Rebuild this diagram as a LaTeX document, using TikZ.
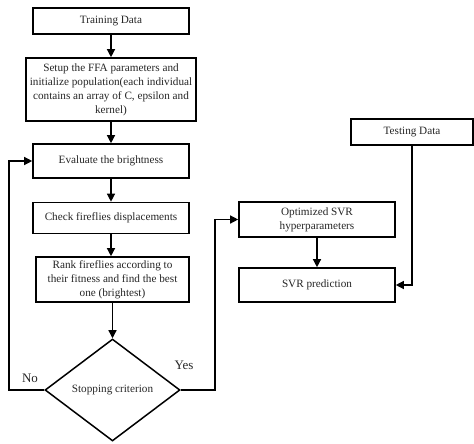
\documentclass[tikz,border=0pt]{standalone}
\usepackage{fontspec}
\setmainfont{Liberation Serif}
\usetikzlibrary{shapes.geometric,arrows.meta}
\begin{document}
\begin{tikzpicture}[x=1pt,y=-1pt,
  box/.style={draw=black,line width=1.6pt,fill=white,inner sep=0pt,align=center,
    font=\fontsize{11.2}{14}\selectfont,text=black!85},
  dec/.style={draw=black,line width=1.5pt,diamond,inner sep=0pt,minimum width=135pt,
    minimum height=102pt,font=\fontsize{11.2}{14}\selectfont,text=black!85},
  arr/.style={line width=1.3pt,-{Triangle[length=8pt,width=8pt]}},
  lbl/.style={font=\fontsize{13}{15}\selectfont,text=black!85}]
\useasboundingbox (0,0) rectangle (474,444);
\node[box,minimum width=156pt,minimum height=26pt] (train) at (111,21) {Training Data};
\node[box,minimum width=170pt,minimum height=63pt] (setup) at (111,89.5) {Setup the FFA parameters and\\initialize population(each individual\\contains an array of C, epsilon and\\kernel)};
\node[box,minimum width=156pt,minimum height=34pt] (eval) at (111,161) {Evaluate the brightness};
\node[box,minimum width=156pt,minimum height=31pt] (check) at (111,218) {Check fireflies displacements};
\node[box,minimum width=153pt,minimum height=45pt] (rank) at (112.5,279.5) {Rank fireflies according to\\their fitness and find the best\\one (brightest)};
\node[dec] (stop) at (112.5,390) {Stopping criterion};
\node[box,minimum width=156pt,minimum height=35pt] (opt) at (317,219.5) {Optimized SVR\\hyperparameters};
\node[box,minimum width=156pt,minimum height=34pt] (pred) at (317,285) {SVR prediction};
\node[box,minimum width=122pt,minimum height=26pt] (test) at (412,132) {Testing Data};
\coordinate (loopL) at (9,390);
\coordinate (loopT) at (9,161);
\coordinate (yesR) at (215,390);
\coordinate (yesT) at (215,219.5);
\coordinate (testB) at (412,285);
\draw[arr] (train) -- (setup);
\draw[arr] (setup) -- (eval);
\draw[arr] (eval) -- (check);
\draw[arr] (check.south) -- (check.south |- rank.north);
\draw[arr] (rank) -- (stop);
\draw[arr] (stop.west) -- (loopL) -- (loopT) -- (eval.west);
\draw[arr] (stop.east) -- (yesR) -- (yesT) -- (opt.west);
\draw[arr] (opt) -- (pred);
\draw[arr] (test.south) -- (testB) -- (pred.east);
\node[lbl] (no) at (30,378) {No};
\node[lbl] (yes) at (184,365) {Yes};
\end{tikzpicture}
\end{document}
